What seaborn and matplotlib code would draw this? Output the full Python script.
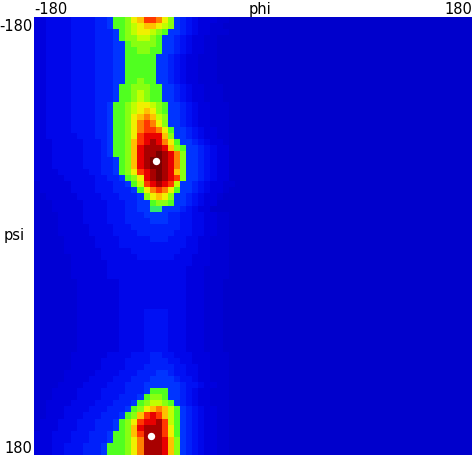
import numpy as np
import matplotlib; matplotlib.use("Agg")
import matplotlib.pyplot as plt
from matplotlib.colors import ListedColormap
import seaborn as sns

# density levels, one string per psi row (base-36 digits),
# only the left part of phi, the rest of each row is background
rows = [
    "2233334444556" + "889bceedb9" + "654322211",
    "2233334444556" + "889abccba9" + "65432211",
    "22333344445556" + "89abba98" + "6654322111",
    "22333344445556" + "899aa98" + "665432211",
    "223333444455566" + "899998" + "665432211",
    "223333444455566" + "889988" + "665432211",
    "223333444455566" + "88888" + "6654322111",
    "223333444455566" + "88888" + "6654322111",
    "223333444455566" + "88888" + "6654322111",
    "223333444455566" + "88888" + "6654322111",
    "223333444455566" + "88988" + "6654322111",
    "22333344445556" + "8899988" + "6654322111",
    "22333344445556" + "889a988" + "6654322111",
    "22333344445556" + "889a988" + "6654322111",
    "2233334444556" + "889abba98" + "6654322111",
    "2233334444556" + "889abcb98" + "6654322111",
    "2233334444556" + "889bcdca9" + "6654322111",
    "2233334444556" + "889bdedb9" + "6654322111",
    "2233334444556" + "889bdeedb8" + "665432211",
    "2233333444556" + "889befffc9" + "665432211",
    "2223333344456" + "889cefgfdb8" + "66543221",
    "2223333344456" + "889cfgggfc98" + "6654322",
    "2223333344456" + "889cfgghgfd9" + "6654322",
    "22233333444556" + "89cfghhgfd9" + "6654322",
    "22233333444556" + "89cfghhgfd9" + "6654322",
    "22223333344556" + "89befghgfc9" + "6654322",
    "222223333344556" + "89bfghgfe9" + "6654322",
    "1222223333444556" + "8aefgfea" + "665432211",
    "12222233334445556" + "8bdedb8" + "66543221",
    "112222233334445556" + "9bcb9" + "66543221",
    "1112222233334445566" + "8998" + "6654322",
    "1112222233334445566" + "77" + "66654322",
    "11112222333344455566665544332211",
    "11112222333344455556665544332211",
    "11112222233334445555555544332211",
    "11112222233334444555555444332211",
    "11111222223333444445554443322111",
    "11111222223333444444444443322111",
    "11111222222333334444444433322111",
    "11111122222333333444444333222111",
    "11111122222233333333333333222111",
    "11111122222233333333333332221111",
    "11111122222233333333333332221111",
    "1111111222222233333333333222111",
    "1111111222222233333333333222111",
    "1111111222222233333333333222111",
    "1111111222222233333333333222111",
    "1111111222222233333333333222111",
    "1111111222222233334444333222111",
    "1111111222222233334444333222111",
    "1111111222222233334444333222111",
    "1111111222222233334444333222111",
    "1111111222222233334444333222111",
    "1111111222222233334444333222111",
    "1111111222222233334444333222111",
    "11111122222233334445544333222111",
    "11111122222333344445554433222111",
    "11111122222333344455555443322111",
    "11111222223333444555665443322111",
    "11111222233334445556666544322111",
    "11112222333344455566666654432211",
    "1112222333344445556" + "888" + "6654322111",
    "111222233334445556" + "8998" + "6654322111",
    "11222233334445556" + "89aa98" + "654322111",
    "1122233334445556" + "89bcdca8" + "65432211",
    "112223334445556" + "89cefeca8" + "65432211",
    "12223334445556" + "89beffgea8" + "65432211",
    "12223334445556" + "89cfgggeb8" + "65432211",
    "2223334445556" + "889cegggeb8" + "65432211",
    "2223334445556" + "889bdgggfc9" + "65432211",
    "222334445556" + "8889bdgggfc9" + "65432211",
    "222334445556" + "8889bdgggfc9" + "65432211",
]

level_colors = ["#0000cc", "#0000d4", "#0000de", "#0006ea", "#0010f4", "#0020fa",
                "#0034ff", "#30e870", "#50ff20", "#88ff10", "#c0ff00", "#f0f000",
                "#ffc000", "#ff8000", "#ff3800", "#e80000", "#a80000", "#780000"]

# the two white peak spots
peak_phi = [-80, -84]
peak_psi = [-62, 164]

n_cells = 72
grid = np.array([[int(ch, 36) for ch in r.ljust(n_cells, "0")] for r in rows])

fig = plt.figure(figsize=(4.74, 4.56), dpi=100)
ax = fig.add_axes([34 / 474, 0, 438 / 474, 438 / 456])

sns.heatmap(grid, cmap=ListedColormap(level_colors), vmin=-0.5,
            vmax=len(level_colors) - 0.5, cbar=False, square=False,
            xticklabels=False, yticklabels=False, ax=ax)

ax.scatter((np.array(peak_phi) + 180) / 5, (np.array(peak_psi) + 180) / 5,
           c="white", s=28, marker="o", linewidths=0, zorder=5)

# axis text
ax.xaxis.tick_top()
ax.set_xticks([0, 37.2, 72])
ax.set_xticklabels(["-180", "phi", "180"], fontsize=10.5)
for lab, ha in zip(ax.get_xticklabels(), ["left", "center", "right"]):
    lab.set_ha(ha)
ax.set_yticks([1.1, 70.5])
ax.set_yticklabels(["-180", "180"], fontsize=10.5, rotation=0)
ax.set_ylabel("psi", fontsize=10.5, rotation=0, ha="right", va="center")
ax.yaxis.set_label_coords(-0.021, 0.503)
ax.tick_params(length=0, pad=1)

plt.savefig("out.png", dpi=100)
plt.close()
